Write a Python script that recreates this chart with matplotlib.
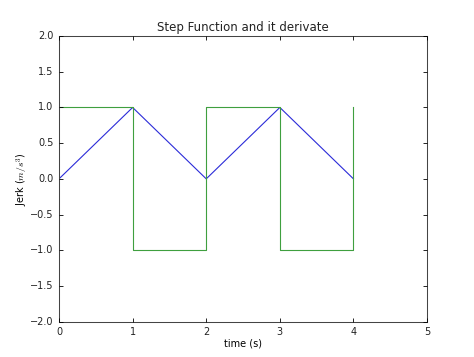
import matplotlib
matplotlib.use("Agg")
import matplotlib.pyplot as plt

# triangle wave and its derivative (step)
t_ramp = [0, 1, 2, 3, 4]
y_ramp = [0, 1, 0, 1, 0]
t_step = [0, 1, 2, 3, 4]
y_step = [1, -1, 1, -1, 1]


def main() -> None:
    plt.style.use("classic")
    plt.rcParams["font.size"] = 7
    plt.rcParams["text.color"] = "#222222"

    fig = plt.figure(figsize=(4.74, 3.57), dpi=100)
    ax = fig.add_axes([0.1245, 0.099, 0.7765, 0.8])
    ax.plot(t_ramp, y_ramp, color="#2b2bd8", lw=0.8)
    ax.step(t_step, y_step, where="post", color="#3f9f3f", lw=0.8)

    ax.set_xlim(0, 5)
    ax.set_ylim(-2, 2)
    ax.set_title("Step Function and it derivate", fontsize=8.5, pad=4)
    ax.set_xlabel("time (s)", fontsize=7, labelpad=1)
    ax.set_ylabel("Jerk ($m/s^3$)", fontsize=7, labelpad=0)
    ax.tick_params(labelsize=7, length=3, width=0.6, labelcolor="#222222")
    for s in ax.spines.values():
        s.set_linewidth(0.75)
        s.set_color("#444444")

    fig.savefig("out.png", dpi=100)
    plt.close(fig)


if __name__ == "__main__":
    main()
